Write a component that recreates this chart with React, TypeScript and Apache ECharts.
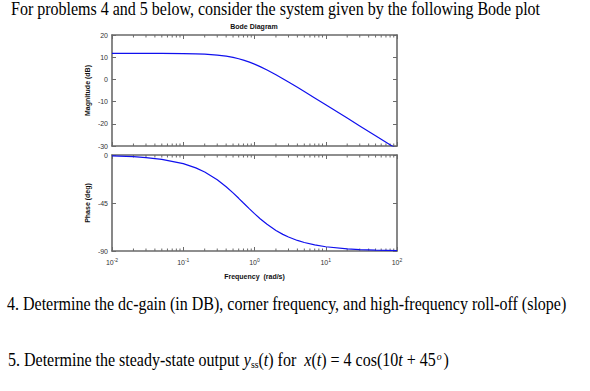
import React, { useEffect, useRef } from "react";
import * as echarts from "echarts";

const FREQ = [0.01, 0.02, 0.03, 0.05, 0.1, 0.15, 0.2, 0.3, 0.4, 0.5, 0.6, 0.7, 0.85, 1, 1.2, 1.5, 2, 2.5, 3, 4, 5, 7, 10, 20, 30, 50, 100];
const MAG_DB = [11.7, 11.7, 11.69, 11.68, 11.6, 11.5, 11.36, 10.97, 10.47, 9.91, 9.31, 8.69, 7.77, 6.87, 5.75, 4.23, 2.08, 0.31, -1.17, -3.57, -5.46, -8.34, -11.42, -17.42, -20.94, -25.38, -31.4];
const PHASE_DEG = [-0.8, -1.6, -2.45, -4.1, -8.1, -12.1, -15.9, -23.2, -29.7, -35.5, -40.6, -45, -50.5, -55, -59.7, -65, -70.7, -74.4, -76.9, -80.1, -82, -84.3, -86, -88, -88.7, -89.2, -89.6];

const MAG_TICKS = [-30, -20, -10, 0, 10, 20];
const PHASE_TICKS = [-90, -45, 0];
const DECADES = [0.01, 0.1, 1, 10];
const MINOR_MULT = [2, 3, 4, 5, 6, 7, 8, 9];

const TITLE = "For problems 4 and 5 below, consider the system given by the following Bode plot";
const Q4 = "4. Determine the dc-gain (in DB), corner frequency, and high-frequency roll-off (slope)";

const FRAME = "#6a6a6a";
const LABEL = "#333";
const SERIF = '"Liberation Serif", "Times New Roman", serif';
const SANS = '"Liberation Sans", Arial, sans-serif';
const SX = 0.89;

export default function App() {
  const ref = useRef<HTMLDivElement>(null);
  useEffect(() => {
    if (!ref.current) return;
    const chart = echarts.init(ref.current, null, { renderer: "svg" });
    const minorPos: number[] = [];
    DECADES.forEach((d) => MINOR_MULT.forEach((m) => minorPos.push(d * m)));

    const xBase = (gridIndex: number, position: "top" | "bottom", showLabel: boolean, name?: string) => ({
      type: "log",
      logBase: 10,
      min: 0.01,
      max: 100,
      gridIndex,
      position,
      axisLine: { show: true, onZero: false, lineStyle: { color: FRAME, width: 1.6 } },
      axisTick: { show: true, inside: true, length: 4, lineStyle: { color: FRAME, width: 1 } },
      splitLine: { show: false },
      axisLabel: showLabel
        ? {
            show: true,
            margin: 6,
            fontFamily: SANS,
            fontSize: 7,
            color: LABEL,
            formatter: (v: number) => `10{sup|${Math.round(Math.log10(v))}}`,
            rich: { sup: { fontSize: 5, verticalAlign: "top", padding: [0, 0, 5, 0], color: LABEL, fontFamily: SANS } },
          }
        : { show: false },
      name: name || "",
      nameLocation: "middle",
      nameGap: 22,
      nameTextStyle: { fontFamily: SANS, fontSize: 7, fontWeight: "bold", color: "#111" },
    });

    const yBase = (gridIndex: number, position: "left" | "right", min: number, max: number, interval: number, showLabel: boolean, name?: string) => ({
      type: "value",
      min,
      max,
      interval,
      gridIndex,
      position,
      axisLine: { show: true, onZero: false, lineStyle: { color: FRAME, width: 1.6 } },
      axisTick: { show: true, inside: true, length: 4, lineStyle: { color: FRAME, width: 1 } },
      splitLine: { show: false },
      axisLabel: showLabel ? { show: true, margin: 4, fontFamily: SANS, fontSize: 7, color: LABEL } : { show: false },
      name: name || "",
      nameLocation: "middle",
      nameRotate: 90,
      nameGap: 21,
      nameTextStyle: { fontFamily: SANS, fontSize: 7, fontWeight: "bold", color: "#111" },
    });

    const minorSeries = (xi: number, yi: number, ymin: number, ymax: number) => ({
      type: "custom",
      xAxisIndex: xi,
      yAxisIndex: yi,
      silent: true,
      data: minorPos.map((x) => [x, ymin, ymax]),
      renderItem: (_p: any, api: any) => {
        const b = api.coord([api.value(0), api.value(1)]);
        const t = api.coord([api.value(0), api.value(2)]);
        const st = { stroke: FRAME, lineWidth: 1 };
        return {
          type: "group",
          children: [
            { type: "line", shape: { x1: b[0], y1: b[1], x2: b[0], y2: b[1] - 2.5 }, style: st },
            { type: "line", shape: { x1: t[0], y1: t[1], x2: t[0], y2: t[1] + 2.5 }, style: st },
          ],
        };
      },
    });

    chart.setOption({
      animation: false,
      backgroundColor: "#fff",
      grid: [
        { left: 112, top: 35, width: 285, height: 111 },
        { left: 112, top: 155, width: 285, height: 96 },
      ],
      xAxis: [
        xBase(0, "bottom", false),
        xBase(0, "top", false),
        xBase(1, "bottom", true, "Frequency  (rad/s)"),
        xBase(1, "top", false),
      ],
      yAxis: [
        yBase(0, "left", MAG_TICKS[0], MAG_TICKS[MAG_TICKS.length - 1], 10, true, "Magnitude (dB)"),
        yBase(0, "right", MAG_TICKS[0], MAG_TICKS[MAG_TICKS.length - 1], 10, false),
        yBase(1, "left", PHASE_TICKS[0], PHASE_TICKS[PHASE_TICKS.length - 1], 45, true, "Phase (deg)"),
        yBase(1, "right", PHASE_TICKS[0], PHASE_TICKS[PHASE_TICKS.length - 1], 45, false),
      ],
      series: [
        {
          type: "line",
          xAxisIndex: 0,
          yAxisIndex: 0,
          data: FREQ.map((f, i) => [f, MAG_DB[i]]),
          showSymbol: false,
          clip: true,
          lineStyle: { color: "#1010ee", width: 1.2 },
        },
        {
          type: "line",
          xAxisIndex: 2,
          yAxisIndex: 2,
          data: FREQ.map((f, i) => [f, PHASE_DEG[i]]),
          showSymbol: false,
          clip: true,
          lineStyle: { color: "#1010ee", width: 1.2 },
        },
        minorSeries(0, 0, -30, 20),
        minorSeries(2, 2, -90, 0),
      ],
      graphic: [
        {
          type: "text",
          x: 11,
          y: 18,
          scaleX: SX,
          style: { text: TITLE, font: `18px ${SERIF}`, fill: "#000", textVerticalAlign: "bottom" },
        },
        {
          type: "text",
          x: 254,
          y: 26.5,
          style: { text: "Bode Diagram", font: `bold 7px ${SANS}`, fill: "#111", textAlign: "center", textVerticalAlign: "middle" },
        },
        {
          type: "text",
          x: 7,
          y: 313,
          scaleX: SX,
          style: { text: Q4, font: `18px ${SERIF}`, fill: "#000", textVerticalAlign: "bottom" },
        },
        {
          type: "text",
          x: 8,
          y: 370,
          scaleX: SX,
          style: {
            text: "5. Determine the steady-state output {i|y}{sub|ss}({i|t}) for  {i|x}({i|t}) = 4 cos(10{i|t} + 45{sup|o})",
            font: `18px ${SERIF}`,
            fill: "#000",
            textVerticalAlign: "bottom",
            rich: {
              i: { fontFamily: SERIF, fontSize: 18, fontStyle: "italic", fill: "#000" },
              sub: { fontFamily: SERIF, fontSize: 11, fill: "#000", verticalAlign: "bottom", padding: [6, 0, 0, 0] },
              sup: { fontFamily: SERIF, fontSize: 11, fontStyle: "italic", fill: "#000", verticalAlign: "top", padding: [0, 2, 8, 1] },
            },
          },
        },
      ],
    });
    return () => chart.dispose();
  }, []);
  return <div ref={ref} style={{ position: "absolute", left: 0, top: 0, width: 590, height: 391, background: "#fff" }} />;
}
